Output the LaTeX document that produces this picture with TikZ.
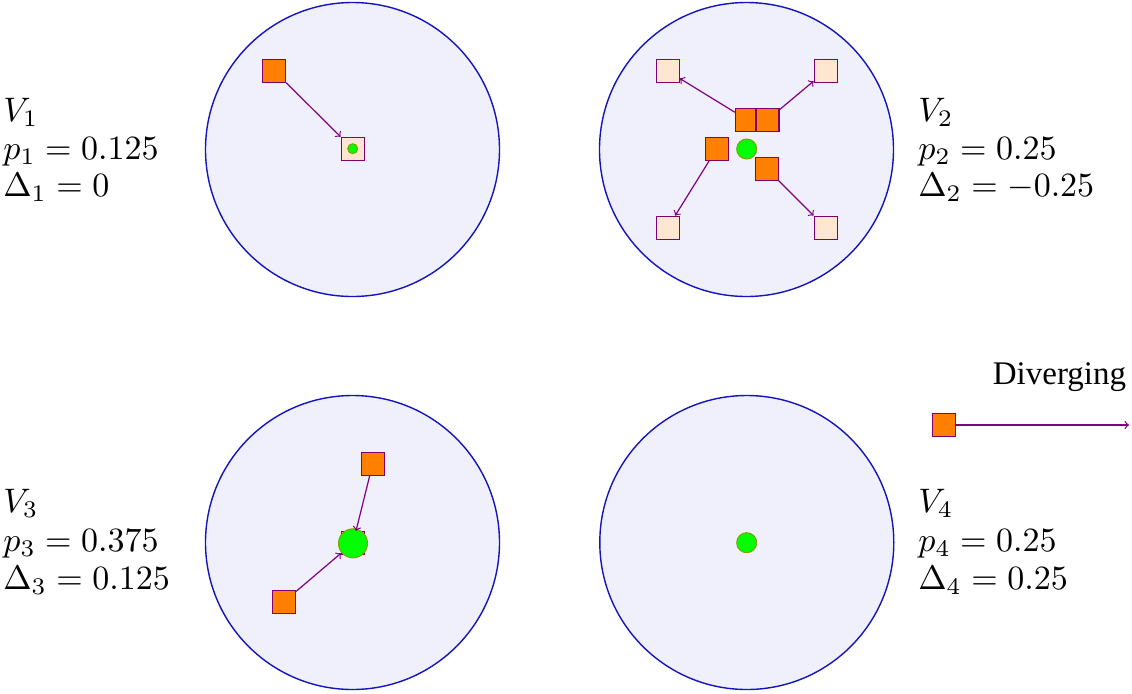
\documentclass[tikz,border=0pt]{standalone}
\usepackage{graphicx}
\usepackage{fontspec}
\newfontfamily\timesf{Liberation Serif}
\newcommand{\biglab}[1]{\scalebox{1.70}{$#1$}}
\begin{document}
\begin{tikzpicture}[x=0.5pt,y=-0.5pt,
  region/.style={circle,draw={rgb,255:red,20;green,20;blue,190},line width=0.7pt,
     fill={rgb,255:red,240;green,240;blue,252},minimum size=147pt,inner sep=0pt},
  agent/.style={rectangle,draw={rgb,255:red,130;green,0;blue,110},line width=0.6pt,
     fill={rgb,255:red,255;green,128;blue,0},minimum size=11.5pt,inner sep=0pt},
  target/.style={rectangle,draw={rgb,255:red,130;green,0;blue,110},line width=0.6pt,
     fill={rgb,255:red,255;green,230;blue,208},minimum size=11.5pt,inner sep=0pt},
  goal/.style={circle,draw={rgb,255:red,130;green,160;blue,0},line width=0.5pt,
     fill={rgb,255:red,0;green,255;blue,0},inner sep=0pt},
  move/.style={->,draw={rgb,255:red,128;green,0;blue,128},line width=0.6pt},
  lab/.style={anchor=base west,inner sep=0pt,font=\fontsize{10}{11}\selectfont}
]
\useasboundingbox (0,0) rectangle (1132,693);

% regions
\node[region] (r1) at (352.5,149.5) {};
\node[region] (r2) at (746.5,149.5) {};
\node[region] (r3) at (352.5,542.5) {};
\node[region] (r4) at (746.8,542.5) {};

% V1
\node[target] (t1) at (352.7,148.7) {};
\node[goal,minimum size=5pt] (g1) at (352.7,148.7) {};
\node[agent] (a1) at (274,70.7) {};
\draw[move] (a1) -- (t1);

% V2
\node[target] (t2a) at (667.7,71) {};
\node[target] (t2b) at (825.7,71) {};
\node[target] (t2c) at (667.7,227.7) {};
\node[target] (t2d) at (825.7,227.7) {};
\node[goal,minimum size=10pt] (g2) at (746.7,149) {};
\node[agent] (a2a) at (747,119.7) {};
\node[agent] (a2b) at (767.5,119.7) {};
\node[agent] (a2c) at (716.7,148.7) {};
\node[agent] (a2d) at (766.7,168.7) {};
\draw[move] (a2a) -- (t2a);
\draw[move] (a2b) -- (t2b);
\draw[move] (a2c) -- (t2c);
\draw[move] (a2d) -- (t2d);

% V3
\node[target] (t3) at (353,543) {};
\node[goal,minimum size=14.5pt] (g3) at (353,543.3) {};
\node[agent] (a3a) at (372.7,463.7) {};
\node[agent] (a3b) at (284,601.7) {};
\draw[move] (a3a) -- (t3);
\draw[move] (a3b) -- (t3);

% V4
\node[goal,minimum size=10pt] (g4) at (746.7,542.7) {};

% Diverging
\node[anchor=base west,inner sep=0pt,font=\timesf\fontsize{16.5}{18}\selectfont] (dv) at (992.5,384) {Diverging};
\node[agent] (a5) at (944,425) {};
\coordinate (e5) at (1129,425);
\draw[move] (a5) -- (e5);

% labels
\node[lab] (v1) at (3,121.7) {\biglab{V_1}};
\node[lab] (p1) at (3,159) {\biglab{p_1 = 0.125}};
\node[lab] (d1) at (3,196.5) {\biglab{\Delta_1 = 0}};
\node[lab] (v2) at (918,121.7) {\biglab{V_2}};
\node[lab] (p2) at (918,159) {\biglab{p_2 = 0.25}};
\node[lab] (d2) at (918,196) {\biglab{\Delta_2 = -0.25}};
\node[lab] (v3) at (3,512.7) {\biglab{V_3}};
\node[lab] (p3) at (3,551.5) {\biglab{p_3 = 0.375}};
\node[lab] (d3) at (3,589.3) {\biglab{\Delta_3 = 0.125}};
\node[lab] (v4) at (918,512.7) {\biglab{V_4}};
\node[lab] (p4) at (918,551.5) {\biglab{p_4 = 0.25}};
\node[lab] (d4) at (918,589.3) {\biglab{\Delta_4 = 0.25}};
\end{tikzpicture}
\end{document}
